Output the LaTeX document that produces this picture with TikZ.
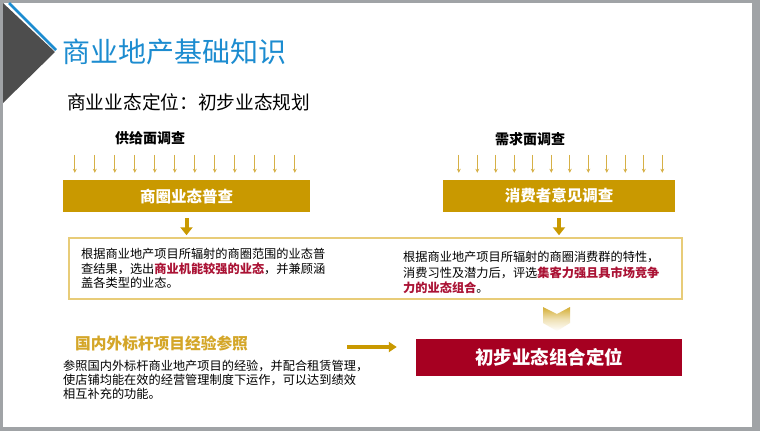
\documentclass[tikz,border=0pt]{standalone}
\usepackage{fontspec}
\setmainfont{Noto Sans CJK SC}
\usepackage{xcolor}
\usepackage{tikz}
\usetikzlibrary{arrows.meta,positioning,calc}
\definecolor{slidegray}{RGB}{160,163,166}
\definecolor{darktri}{RGB}{77,77,77}
\definecolor{titleblue}{RGB}{28,140,208}
\definecolor{boxgold}{RGB}{201,153,0}
\definecolor{tickgold}{RGB}{214,176,70}
\definecolor{framegold}{RGB}{232,204,120}
\definecolor{headgold}{RGB}{212,166,40}
\definecolor{boxred}{RGB}{166,0,33}
\definecolor{hlred}{RGB}{170,18,52}
\newcommand{\hl}[1]{\textbf{\color{hlred}#1}}

\begin{document}
\begin{tikzpicture}[
    x=1pt, y=-1pt,
    gbox/.style={rectangle, fill=boxgold, text=white, font=\bfseries\fontsize{15.5}{18}\selectfont, inner sep=0pt},
    rbox/.style={rectangle, fill=boxred, text=white, font=\bfseries\fontsize{18.5}{22}\selectfont, inner sep=0pt},
    head/.style={font=\bfseries\fontsize{14}{16}\selectfont, inner sep=0pt},
    body/.style={font=\fontsize{12.2}{14.5}\selectfont, align=left, inner sep=0pt, anchor=north west},
    panel/.style={rectangle, draw=framegold, line width=1.5pt, inner sep=0pt},
    tick/.style={-{Stealth[length=4pt,width=4pt]}, draw=tickgold, line width=0.8pt},
    downarrow/.style={-{Triangle[length=8pt,width=12pt]}, draw=boxgold, line width=4pt},
    bigarrow/.style={-{Triangle[length=8pt,width=10pt]}, draw=boxgold, line width=4pt}
]
    \useasboundingbox (0,0) rectangle (760,431);
    % slide
    \fill[slidegray] (0,0) rectangle (760,431);
    \fill[white] (3,3) rectangle (752,427);
    \fill[darktri] (3,3) -- (55,52) -- (3,103) -- cycle;
    \draw[titleblue, line width=2.5pt] (9,3) -- (56,50);

    \node[anchor=west, inner sep=0pt, text=titleblue, font=\fontsize{28}{31}\selectfont] (title) at (62,52) {商业地产基础知识};
    \node[anchor=west, inner sep=0pt, font=\fontsize{18.7}{21}\selectfont] (subtitle) at (67,102) {商业业态定位：初步业态规划};

    % survey boxes
    \node[head] (supplyhead) at (150,138) {供给面调查};
    \node[head] (demandhead) at (530,139) {需求面调查};
    \node[gbox, minimum width=247, minimum height=32] (supply) at (186.5,196) {商圈业态普查};
    \node[gbox, minimum width=232, minimum height=32] (demand) at (559,196) {消费者意见调查};

    \foreach \i in {0,...,11} {
        \draw[tick] ($(supply.north west)+(12+20*\i,-25)$) -- ++(0,18);
        \draw[tick] ($(demand.north west)+(16+18.5*\i,-25)$) -- ++(0,18);
    }

    % findings
    \node[panel, minimum width=613, minimum height=61] (frame) at (375.5,268.5) {};
    \draw[downarrow, shorten <=6pt, shorten >=2pt] (supply.south) -- (supply.south |- frame.north);
    \draw[downarrow, shorten <=6pt, shorten >=2pt] (demand.south) -- (demand.south |- frame.north);

    \node[body] (supplytext) at (81,248) {根据商业地产项目所辐射的商圈范围的业态普\\查结果，选出\hl{商业机能较强的业态}，并兼顾涵\\盖各类型的业态。};
    \node[body, font=\fontsize{12.2}{15.5}\selectfont] (demandtext) at (403,251) {根据商业地产项目所辐射的商圈消费群的特性，\\消费习性及潜力后，评选\hl{集客力强且具市场竞争}\\\hl{力的业态组合}。};

    % chevron
    \shade[top color=boxgold!80, bottom color=white, middle color=boxgold!30]
        (543,307) -- (557,314) -- (570,307) -- (570,323) -- (557,331) -- (543,323) -- cycle;

    % result
    \node[rbox, minimum width=266, minimum height=37] (final) at (549,357.5) {初步业态组合定位};

    \node[anchor=west, inner sep=0pt, text=headgold, font=\bfseries\fontsize{15.7}{18}\selectfont] (refhead) at (75,343) {国内外标杆项目经验参照};
    \node[body, font=\fontsize{12.2}{13.8}\selectfont] (reftext) at (63,360) {参照国内外标杆商业地产项目的经验，并配合租赁管理，\\使店铺均能在效的经营管理制度下运作，可以达到绩效\\相互补充的功能。};

    \coordinate (refarr) at (347,347);
    \draw[bigarrow, shorten >=19pt] (refarr) -- (refarr -| final.west);
\end{tikzpicture}
\end{document}
